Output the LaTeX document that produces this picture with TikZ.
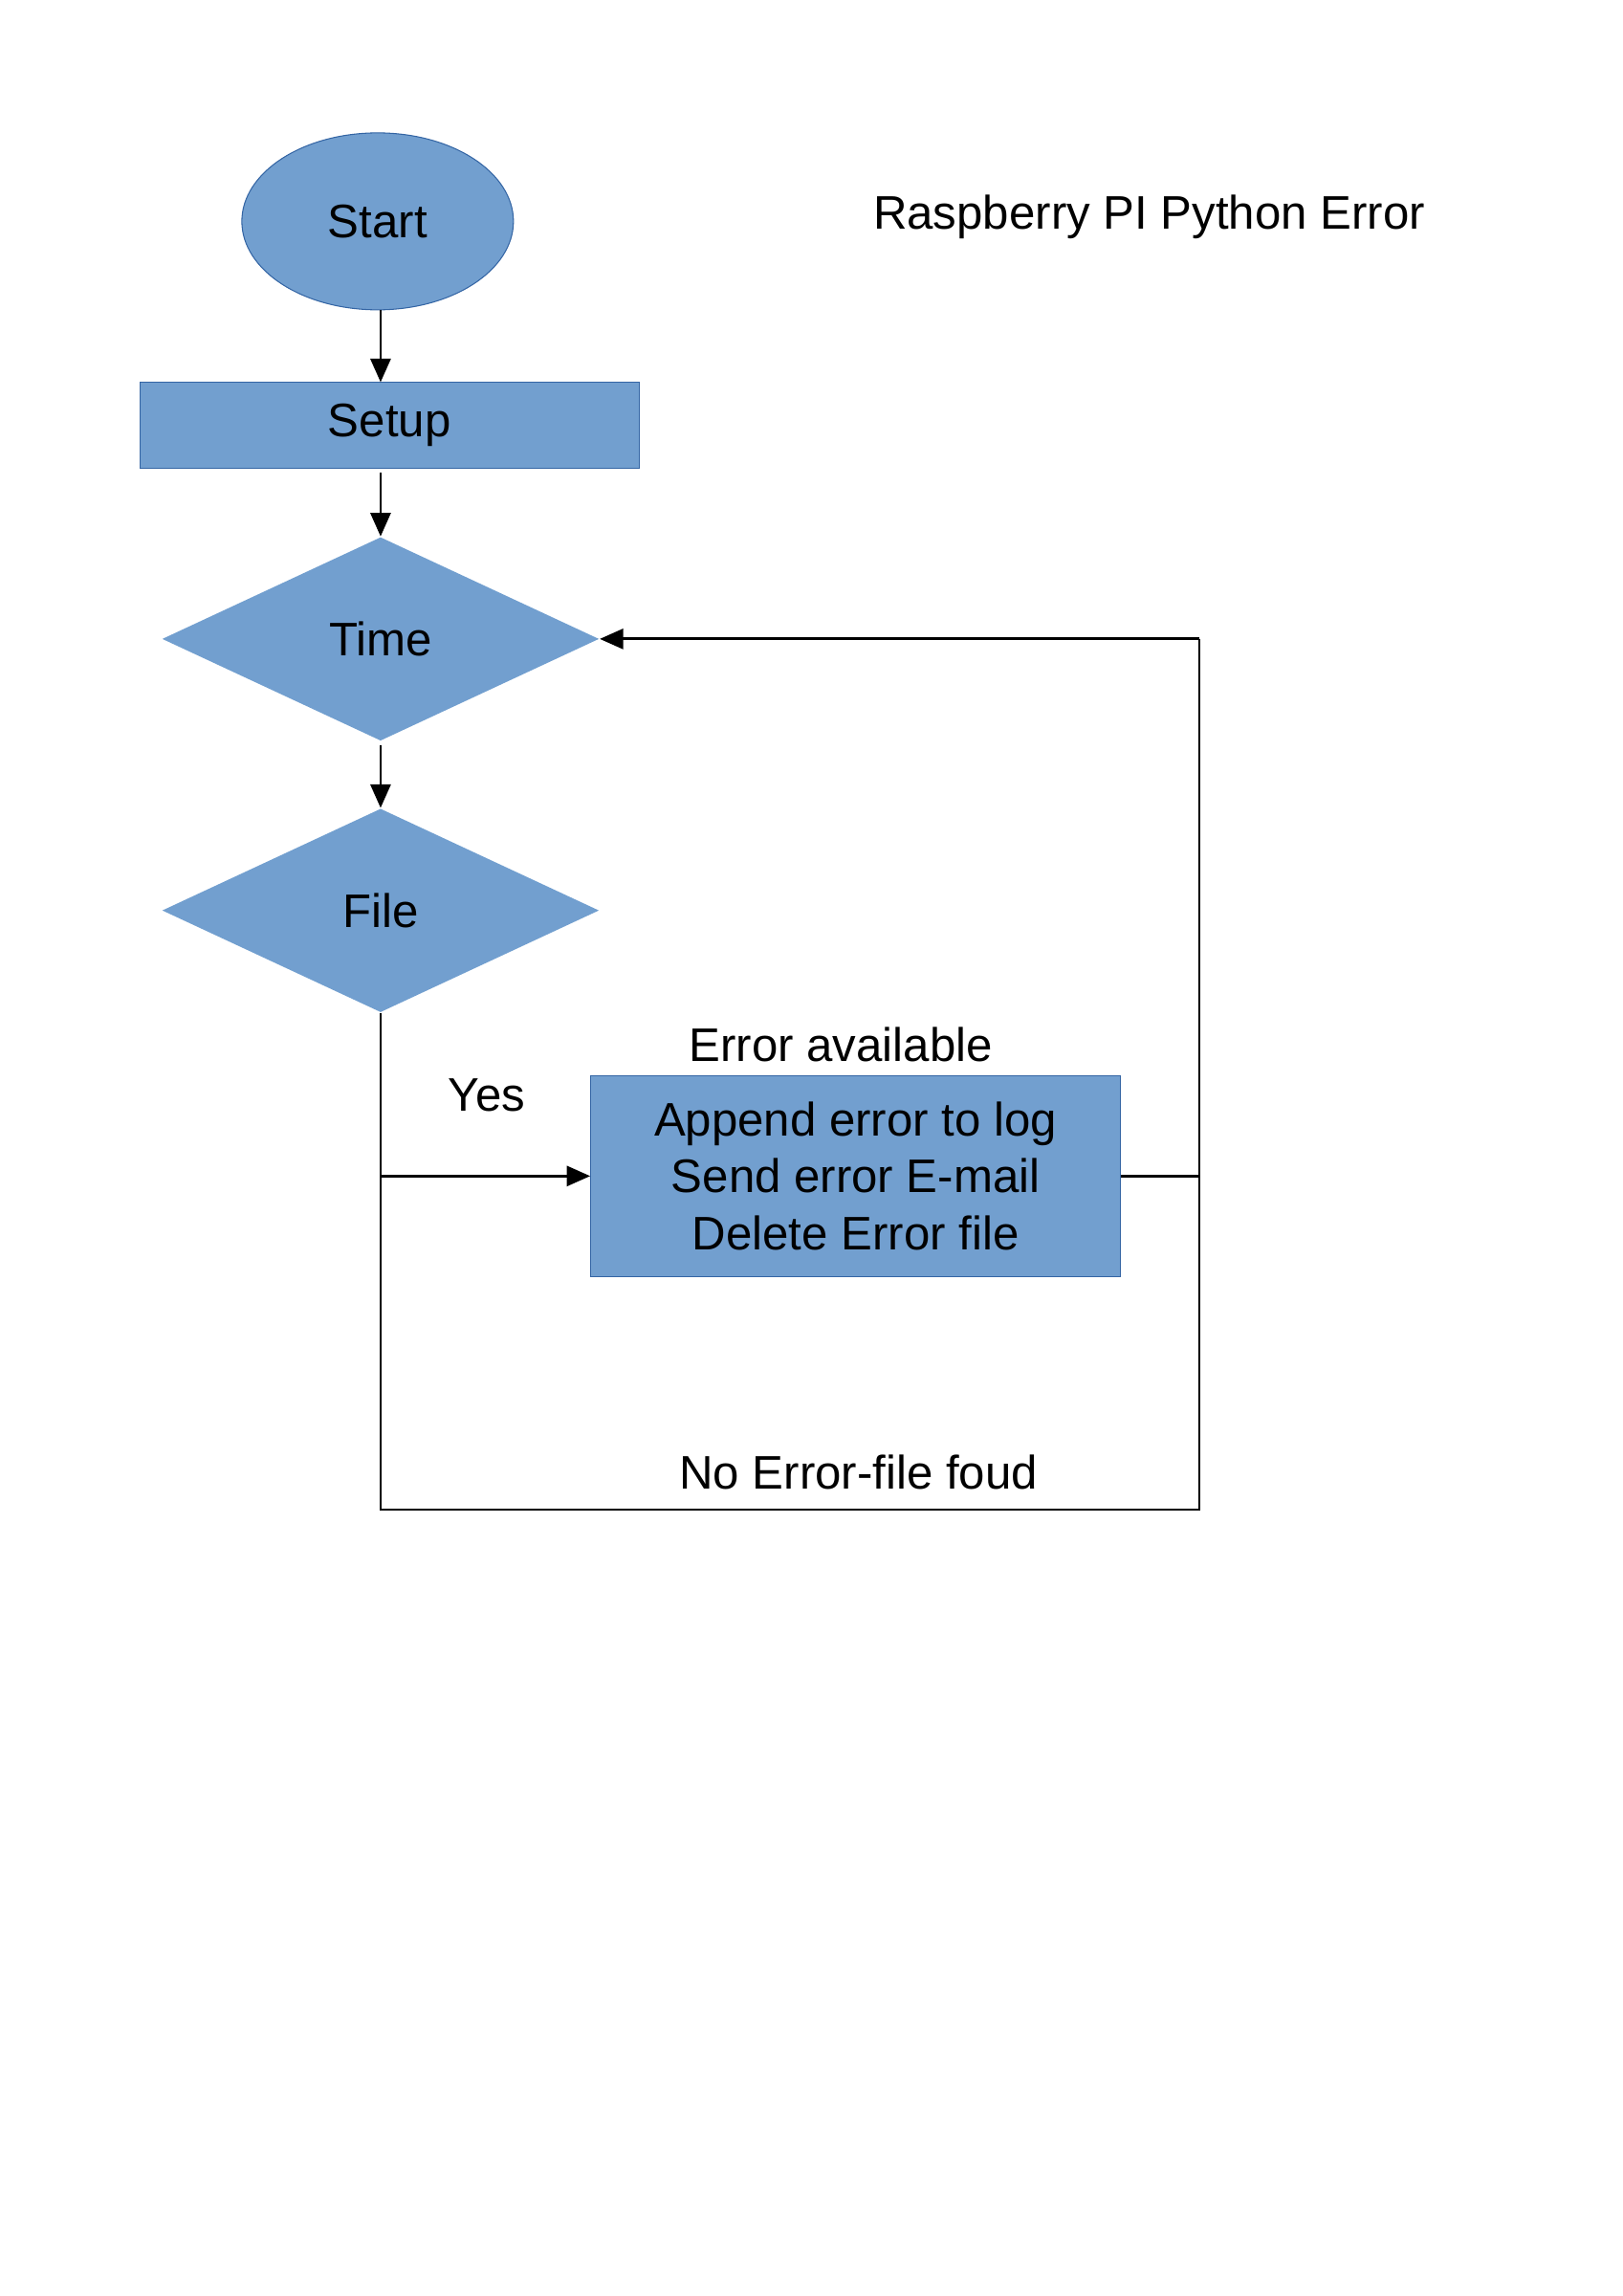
\documentclass[tikz,border=0pt]{standalone}
\usepackage{fontspec}
\setmainfont{Liberation Sans}
\usetikzlibrary{shapes.geometric, arrows.meta}
\definecolor{boxblue}{HTML}{729FCF}
\definecolor{edgeblue}{HTML}{3465A4}
\tikzstyle{startstop} = [ellipse, 
minimum width=2.84cm, 
minimum height=1.85cm,
inner sep=0pt,
draw=edgeblue, line width=0.3pt,
fill=boxblue]
\tikzstyle{process} = [rectangle, 
minimum width=5.22cm, 
minimum height=0.9cm, 
inner sep=0pt,
text centered, 
draw=edgeblue, line width=0.3pt,
fill=boxblue]
\tikzstyle{decision} = [diamond, 
minimum width=4.57cm, 
minimum height=2.13cm, 
inner sep=0pt,
text centered,
fill=boxblue]
\tikzstyle{arrow} = [line width=0.8pt,-{Triangle[length=7pt,width=6pt]}]
\tikzstyle{line} = [line width=0.8pt]
\begin{document}
\begin{tikzpicture}[x=0.01543cm, y=-0.01543cm, font=\fontsize{14}{17}\selectfont]
	\useasboundingbox (0,0) rectangle (1100,1556);
	
	\node (title) at (779,147) {Raspberry PI Python Error};
	
	\node (start) [startstop] at (256,150) {Start};
	\node (setup) [process] at (264,288) {Setup};
	\node (time) [decision] at (258,433) {Time};
	\node (file) [decision] at (258,617) {File};
	\node (act) [process, minimum width=5.54cm, minimum height=2.1cm, align=center] at (580,797)
		{Append error to log\\Send error E-mail\\Delete Error file};
	
	\node (lavail) at (570,708) {Error available};
	\node (lyes) at (330,742) {Yes};
	\node (lno) at (582,998) {No Error-file foud};
	
	\coordinate (bl) at (258,1023);
	\coordinate (br) at (813,1023);
	\coordinate (tr) at (813,433);
	\coordinate (mr) at (813,797);
	\coordinate (ml) at (258,797);
	
	\draw [arrow] (258,210) -- (258,259);
	\draw [arrow] (258,320) -- (time.north);
	\draw [arrow] (258,505) -- (file.north);
	\draw [line] (file.south) -- (bl) -- (br) -- (tr);
	\draw [arrow] (tr) -- (time.east);
	\draw [arrow] (ml) -- (act.west);
	\draw [line] (act.east) -- (mr);
	
\end{tikzpicture}
\end{document}
